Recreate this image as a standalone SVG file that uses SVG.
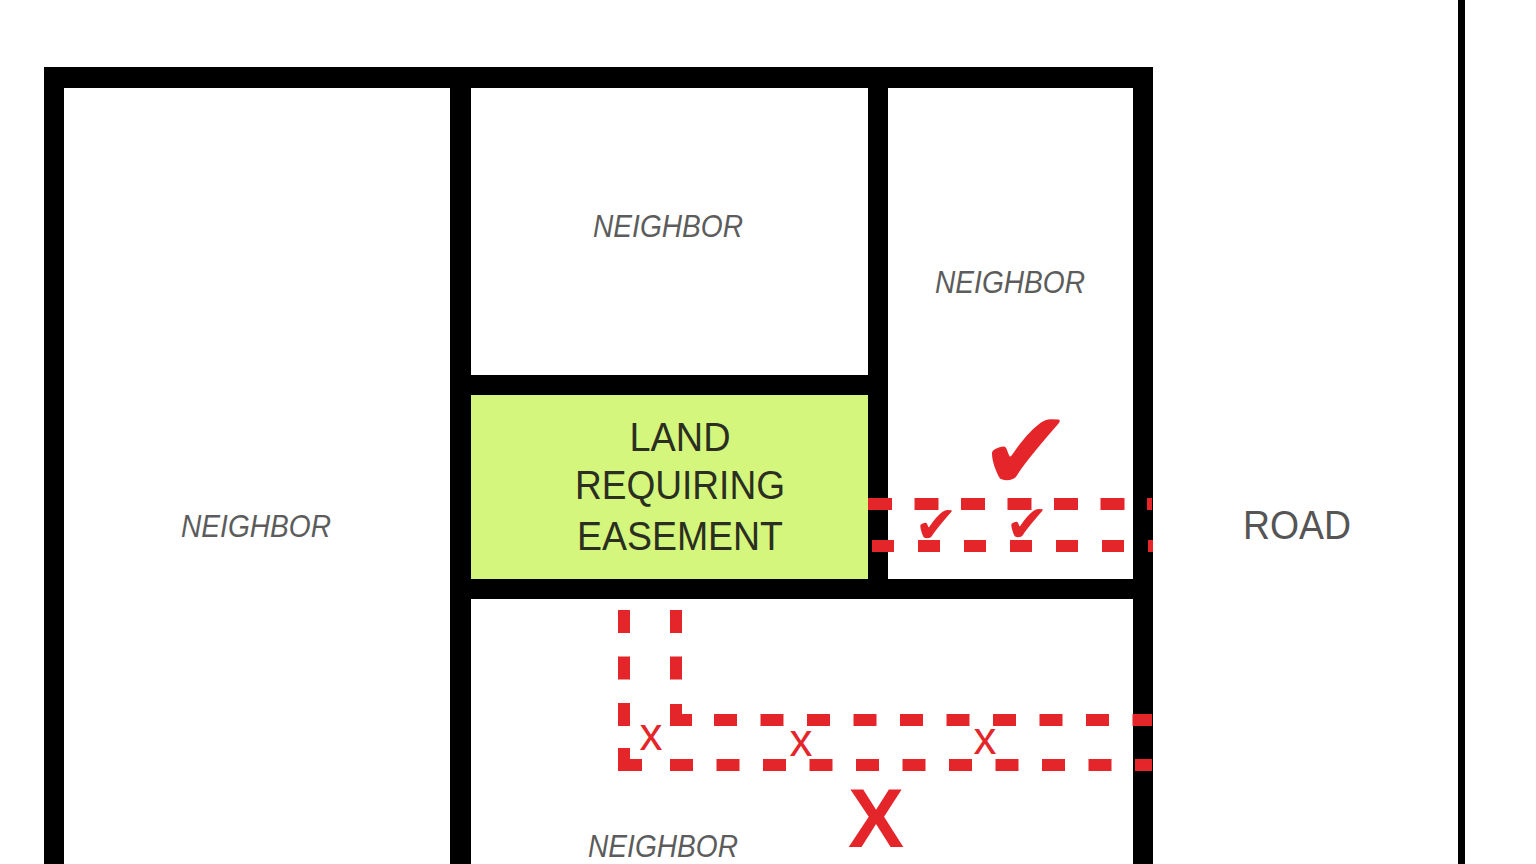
<svg xmlns="http://www.w3.org/2000/svg" width="1536" height="864" viewBox="0 0 1536 864">
<style>
.wall{fill:#000}
.nb{font-family:"Liberation Sans",Arial,sans-serif;font-style:italic;font-size:31px;fill:#5c5c5c;text-anchor:middle}
.land{font-family:"Liberation Sans",Arial,sans-serif;font-size:40px;fill:#2b2f22;text-anchor:middle}
.road{font-family:"Liberation Sans",Arial,sans-serif;font-size:41px;fill:#555;text-anchor:middle}
.ease{stroke:#e4262b;stroke-width:12;fill:none;stroke-dasharray:23 23.5}
.corner{stroke:#e4262b;stroke-width:12;fill:none;stroke-linejoin:miter}
.rx{font-family:"Liberation Sans",Arial,sans-serif;fill:#e4262b;text-anchor:middle}
.chk{font-family:"DejaVu Sans",sans-serif;fill:#e4262b;text-anchor:middle}
</style>
<rect width="1536" height="864" fill="#fff"/>
<g id="parcel-walls">
<rect class="wall" x="44" y="67" width="20" height="797"/>
<rect class="wall" x="44" y="67" width="1109" height="21"/>
<rect class="wall" x="450" y="67" width="21" height="797"/>
<rect class="wall" x="1133" y="67" width="20" height="797"/>
<rect class="wall" x="868" y="67" width="20" height="532"/>
<rect class="wall" x="450" y="375" width="438" height="20"/>
<rect class="wall" x="450" y="579" width="703" height="20"/>
<rect class="wall" x="1458" y="0" width="7" height="864"/>
</g>
<g id="neighbor-left"><text class="nb" x="256" y="537" textLength="150" lengthAdjust="spacingAndGlyphs">NEIGHBOR</text></g>
<g id="neighbor-top-middle"><text class="nb" x="668" y="237" textLength="150" lengthAdjust="spacingAndGlyphs">NEIGHBOR</text></g>
<g id="neighbor-top-right"><text class="nb" x="1010" y="293" textLength="150" lengthAdjust="spacingAndGlyphs">NEIGHBOR</text></g>
<g id="neighbor-bottom"><text class="nb" x="663" y="857" textLength="150" lengthAdjust="spacingAndGlyphs">NEIGHBOR</text></g>
<g id="land-requiring-easement">
<rect x="471" y="395" width="397" height="184" fill="#d5f67c"/>
<text class="land" x="680" y="451" textLength="101" lengthAdjust="spacingAndGlyphs">LAND</text>
<text class="land" x="680" y="499" textLength="210" lengthAdjust="spacingAndGlyphs">REQUIRING</text>
<text class="land" x="680" y="550" textLength="206" lengthAdjust="spacingAndGlyphs">EASEMENT</text>
</g>
<g id="road"><text class="road" x="1297" y="539" textLength="108" lengthAdjust="spacingAndGlyphs">ROAD</text></g>
<g id="connectors">
<g id="easement-approved">
<line class="ease" x1="868" y1="504" x2="1152" y2="504" style="stroke-dasharray:24 22.5"/>
<line class="ease" x1="872" y1="546" x2="1153" y2="546" style="stroke-dasharray:22 24"/>
<text class="chk" x="1026" y="490" font-size="112">✔</text>
<text class="chk" x="936" y="543" font-size="52">✔</text>
<text class="chk" x="1027" y="542" font-size="52">✔</text>
</g>
<g id="easement-rejected">
<line class="ease" x1="624" y1="610" x2="624" y2="727"/>
<polyline class="corner" points="624,748 624,765 642,765"/>
<line class="ease" x1="670" y1="765" x2="1152" y2="765"/>
<line class="ease" x1="676" y1="610" x2="676" y2="682"/>
<polyline class="corner" points="676,704 676,720 692,720"/>
<line class="ease" x1="714" y1="720" x2="1152" y2="720"/>
<text class="rx" x="651" y="750" font-size="46">x</text>
<text class="rx" x="801" y="756" font-size="46">x</text>
<text class="rx" x="985" y="754" font-size="46">x</text>
<text class="rx" x="876" y="847" font-size="84" font-weight="bold">X</text>
</g>
</g>
</svg>
